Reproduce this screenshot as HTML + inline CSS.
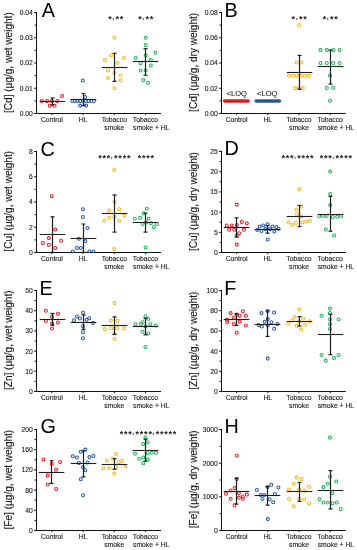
<!DOCTYPE html>
<html><head><meta charset="utf-8"><style>
html,body{margin:0;padding:0;background:#fff;}
body{width:357px;height:550px;overflow:hidden;}
svg{display:block;will-change:transform;}
text{font-family:"Liberation Sans",sans-serif;}
.ax{stroke:#111;stroke-width:1;fill:none;}
.tk{font-size:6.8px;fill:#1c1c1c;stroke:#1c1c1c;stroke-width:0.12px;}
.xl{font-size:6.8px;fill:#1c1c1c;stroke:#1c1c1c;stroke-width:0.12px;}
.yl{font-size:10.05px;fill:#1c1c1c;stroke:#1c1c1c;stroke-width:0.15px;}
.pl{font-size:19.8px;fill:#000;}
.st{font-weight:bold;fill:#222;}
.cm{font-size:7px;font-weight:bold;fill:#333;}
.lq{font-size:7px;fill:#1c1c1c;stroke:#1c1c1c;stroke-width:0.12px;}
.pt{fill:none;stroke-width:1.05;}
.mn{stroke:#1e1e1e;stroke-width:1.1;}
.eb{stroke:#1e1e1e;stroke-width:1.2;}
</style></head><body>
<svg width="357" height="550" viewBox="0 0 357 550">
<line x1="36.5" y1="12.0" x2="36.5" y2="114.0" class="ax"/>
<line x1="34.1" y1="12.5" x2="36.5" y2="12.5" class="ax"/>
<text x="32.9" y="14.95" class="tk" text-anchor="end">0.04</text>
<line x1="34.5" y1="25.125" x2="36.5" y2="25.125" class="ax"/>
<line x1="34.1" y1="37.75" x2="36.5" y2="37.75" class="ax"/>
<text x="32.9" y="40.20" class="tk" text-anchor="end">0.03</text>
<line x1="34.5" y1="50.375" x2="36.5" y2="50.375" class="ax"/>
<line x1="34.1" y1="63.0" x2="36.5" y2="63.0" class="ax"/>
<text x="32.9" y="65.45" class="tk" text-anchor="end">0.02</text>
<line x1="34.5" y1="75.625" x2="36.5" y2="75.625" class="ax"/>
<line x1="34.1" y1="88.25" x2="36.5" y2="88.25" class="ax"/>
<text x="32.9" y="90.70" class="tk" text-anchor="end">0.01</text>
<line x1="34.5" y1="100.875" x2="36.5" y2="100.875" class="ax"/>
<line x1="34.1" y1="113.5" x2="36.5" y2="113.5" class="ax"/>
<text x="32.9" y="115.95" class="tk" text-anchor="end">0.00</text>
<line x1="36.0" y1="113.5" x2="161.0" y2="113.5" class="ax"/>
<line x1="51.9" y1="113.5" x2="51.9" y2="115.1" class="ax"/>
<line x1="83.1" y1="113.5" x2="83.1" y2="115.1" class="ax"/>
<line x1="114.3" y1="113.5" x2="114.3" y2="115.1" class="ax"/>
<line x1="145.5" y1="113.5" x2="145.5" y2="115.1" class="ax"/>
<text x="51.9" y="121.9" class="xl" text-anchor="middle">Control</text>
<text x="83.1" y="121.9" class="xl" text-anchor="middle">HL</text>
<text x="114.3" y="121.9" class="xl" text-anchor="middle">Tobacco</text>
<text x="114.3" y="129.70000000000002" class="xl" text-anchor="middle">smoke</text>
<text x="145.5" y="121.9" class="xl" text-anchor="middle">Tobacco</text>
<text x="133.0" y="129.70000000000002" class="xl">smoke + HL</text>
<text transform="translate(11.5,62.6) rotate(-90)" class="yl" text-anchor="middle">[Cd] (µg/g, wet weight)</text>
<text x="41.66" y="16.5" class="pl">A</text>
<circle cx="41.8" cy="100.9" r="1.5" stroke="#ee1c25" class="pt"/>
<circle cx="47.1" cy="100.9" r="1.5" stroke="#ee1c25" class="pt"/>
<circle cx="51.9" cy="100.9" r="1.5" stroke="#ee1c25" class="pt"/>
<circle cx="57.2" cy="100.9" r="1.5" stroke="#ee1c25" class="pt"/>
<circle cx="49.8" cy="105.8" r="1.5" stroke="#ee1c25" class="pt"/>
<circle cx="54.6" cy="105.8" r="1.5" stroke="#ee1c25" class="pt"/>
<circle cx="62.1" cy="95.9" r="1.5" stroke="#ee1c25" class="pt"/>
<line x1="39.7" y1="101.5" x2="65.3" y2="101.5" class="mn"/>
<line x1="52.5" y1="98.0" x2="52.5" y2="105.0" class="eb"/>
<line x1="50.5" y1="98.0" x2="54.5" y2="98.0" class="eb"/>
<line x1="50.5" y1="105.0" x2="54.5" y2="105.0" class="eb"/>
<circle cx="72.2" cy="101.0" r="1.5" stroke="#2a5ca8" class="pt"/>
<circle cx="74.9" cy="101.0" r="1.5" stroke="#2a5ca8" class="pt"/>
<circle cx="77.5" cy="101.0" r="1.5" stroke="#2a5ca8" class="pt"/>
<circle cx="80.2" cy="101.0" r="1.5" stroke="#2a5ca8" class="pt"/>
<circle cx="83.0" cy="101.0" r="1.5" stroke="#2a5ca8" class="pt"/>
<circle cx="85.8" cy="101.0" r="1.5" stroke="#2a5ca8" class="pt"/>
<circle cx="88.6" cy="101.0" r="1.5" stroke="#2a5ca8" class="pt"/>
<circle cx="91.2" cy="101.0" r="1.5" stroke="#2a5ca8" class="pt"/>
<circle cx="93.9" cy="101.0" r="1.5" stroke="#2a5ca8" class="pt"/>
<circle cx="80.2" cy="105.6" r="1.5" stroke="#2a5ca8" class="pt"/>
<circle cx="86.1" cy="105.6" r="1.5" stroke="#2a5ca8" class="pt"/>
<circle cx="85.2" cy="96.9" r="1.5" stroke="#2a5ca8" class="pt"/>
<circle cx="82.8" cy="80.5" r="1.5" stroke="#2a5ca8" class="pt"/>
<line x1="70.7" y1="99.5" x2="96.3" y2="99.5" class="mn"/>
<line x1="83.5" y1="93.5" x2="83.5" y2="105.6" class="eb"/>
<line x1="81.5" y1="93.5" x2="85.5" y2="93.5" class="eb"/>
<line x1="81.5" y1="105.6" x2="85.5" y2="105.6" class="eb"/>
<circle cx="114.4" cy="37.7" r="1.5" stroke="#fbb91a" class="pt"/>
<circle cx="111.1" cy="55.2" r="1.5" stroke="#fbb91a" class="pt"/>
<circle cx="104.9" cy="60.1" r="1.5" stroke="#fbb91a" class="pt"/>
<circle cx="123.9" cy="57.9" r="1.5" stroke="#fbb91a" class="pt"/>
<circle cx="117.5" cy="62.8" r="1.5" stroke="#fbb91a" class="pt"/>
<circle cx="108" cy="70.5" r="1.5" stroke="#fbb91a" class="pt"/>
<circle cx="114.4" cy="73" r="1.5" stroke="#fbb91a" class="pt"/>
<circle cx="120.6" cy="75.5" r="1.5" stroke="#fbb91a" class="pt"/>
<circle cx="108" cy="77.9" r="1.5" stroke="#fbb91a" class="pt"/>
<circle cx="120.6" cy="80.5" r="1.5" stroke="#fbb91a" class="pt"/>
<circle cx="114.4" cy="88.3" r="1.5" stroke="#fbb91a" class="pt"/>
<line x1="101.7" y1="67.5" x2="127.3" y2="67.5" class="mn"/>
<line x1="114.5" y1="53.3" x2="114.5" y2="81.4" class="eb"/>
<line x1="112.5" y1="53.3" x2="116.5" y2="53.3" class="eb"/>
<line x1="112.5" y1="81.4" x2="116.5" y2="81.4" class="eb"/>
<circle cx="145.7" cy="37.7" r="1.5" stroke="#22b35e" class="pt"/>
<circle cx="145.7" cy="45.1" r="1.5" stroke="#22b35e" class="pt"/>
<circle cx="155.5" cy="52.8" r="1.5" stroke="#22b35e" class="pt"/>
<circle cx="145.7" cy="55.2" r="1.5" stroke="#22b35e" class="pt"/>
<circle cx="135.7" cy="57.9" r="1.5" stroke="#22b35e" class="pt"/>
<circle cx="150.8" cy="60.1" r="1.5" stroke="#22b35e" class="pt"/>
<circle cx="140.6" cy="63.2" r="1.5" stroke="#22b35e" class="pt"/>
<circle cx="150.8" cy="65.5" r="1.5" stroke="#22b35e" class="pt"/>
<circle cx="140.6" cy="70.5" r="1.5" stroke="#22b35e" class="pt"/>
<circle cx="145.7" cy="70.5" r="1.5" stroke="#22b35e" class="pt"/>
<circle cx="143.2" cy="80.1" r="1.5" stroke="#22b35e" class="pt"/>
<circle cx="148.1" cy="82.8" r="1.5" stroke="#22b35e" class="pt"/>
<line x1="132.7" y1="61.5" x2="158.3" y2="61.5" class="mn"/>
<line x1="145.5" y1="48.6" x2="145.5" y2="75.2" class="eb"/>
<line x1="143.5" y1="48.6" x2="147.5" y2="48.6" class="eb"/>
<line x1="143.5" y1="75.2" x2="147.5" y2="75.2" class="eb"/>
<text x="108.24" y="22.40" class="st" style="font-size:9.0px">*</text>
<text x="112.33" y="19.30" class="cm">,</text>
<text x="115.58" y="22.40" class="st" style="font-size:9.0px">*</text>
<text x="119.86" y="22.40" class="st" style="font-size:9.0px">*</text>
<text x="138.14" y="22.40" class="st" style="font-size:9.0px">*</text>
<text x="142.23" y="19.30" class="cm">,</text>
<text x="145.48" y="22.40" class="st" style="font-size:9.0px">*</text>
<text x="149.76" y="22.40" class="st" style="font-size:9.0px">*</text>
<line x1="221.5" y1="12.0" x2="221.5" y2="114.0" class="ax"/>
<line x1="219.1" y1="12.5" x2="221.5" y2="12.5" class="ax"/>
<text x="217.9" y="14.95" class="tk" text-anchor="end">0.08</text>
<line x1="219.5" y1="25.125" x2="221.5" y2="25.125" class="ax"/>
<line x1="219.1" y1="37.75" x2="221.5" y2="37.75" class="ax"/>
<text x="217.9" y="40.20" class="tk" text-anchor="end">0.06</text>
<line x1="219.5" y1="50.375" x2="221.5" y2="50.375" class="ax"/>
<line x1="219.1" y1="63.0" x2="221.5" y2="63.0" class="ax"/>
<text x="217.9" y="65.45" class="tk" text-anchor="end">0.04</text>
<line x1="219.5" y1="75.625" x2="221.5" y2="75.625" class="ax"/>
<line x1="219.1" y1="88.25" x2="221.5" y2="88.25" class="ax"/>
<text x="217.9" y="90.70" class="tk" text-anchor="end">0.02</text>
<line x1="219.5" y1="100.875" x2="221.5" y2="100.875" class="ax"/>
<line x1="219.1" y1="113.5" x2="221.5" y2="113.5" class="ax"/>
<text x="217.9" y="115.95" class="tk" text-anchor="end">0.00</text>
<line x1="221.0" y1="113.5" x2="345.8" y2="113.5" class="ax"/>
<line x1="236.6" y1="113.5" x2="236.6" y2="115.1" class="ax"/>
<line x1="267.8" y1="113.5" x2="267.8" y2="115.1" class="ax"/>
<line x1="299.0" y1="113.5" x2="299.0" y2="115.1" class="ax"/>
<line x1="330.2" y1="113.5" x2="330.2" y2="115.1" class="ax"/>
<text x="236.6" y="121.9" class="xl" text-anchor="middle">Control</text>
<text x="267.8" y="121.9" class="xl" text-anchor="middle">HL</text>
<text x="299.0" y="121.9" class="xl" text-anchor="middle">Tobacco</text>
<text x="299.0" y="129.70000000000002" class="xl" text-anchor="middle">smoke</text>
<text x="330.2" y="121.9" class="xl" text-anchor="middle">Tobacco</text>
<text x="317.7" y="129.70000000000002" class="xl">smoke + HL</text>
<text transform="translate(196.5,62.4) rotate(-90)" class="yl" text-anchor="middle">[Cd] (µg/g, dry weight)</text>
<text x="224.4" y="16.5" class="pl">B</text>
<line x1="224.6" y1="101" x2="248.20000000000002" y2="101" stroke="#ee1c25" stroke-width="3.4" stroke-linecap="round"/>
<line x1="225.4" y1="101" x2="247.4" y2="101" stroke="#331" stroke-width="0.9" stroke-dasharray="0.9 0.5" opacity="0.75"/>
<text x="226.6" y="96.3" class="lq" textLength="20.3" lengthAdjust="spacingAndGlyphs">&lt;LOQ</text>
<line x1="256.1" y1="101" x2="279.5" y2="101" stroke="#2a5ca8" stroke-width="3.4" stroke-linecap="round"/>
<line x1="256.9" y1="101" x2="278.7" y2="101" stroke="#331" stroke-width="0.9" stroke-dasharray="0.9 0.5" opacity="0.75"/>
<text x="257.09999999999997" y="96.3" class="lq" textLength="20.3" lengthAdjust="spacingAndGlyphs">&lt;LOQ</text>
<circle cx="299.1" cy="24.9" r="1.5" stroke="#fbb91a" class="pt"/>
<circle cx="296.6" cy="62.5" r="1.5" stroke="#fbb91a" class="pt"/>
<circle cx="301.6" cy="62.5" r="1.5" stroke="#fbb91a" class="pt"/>
<circle cx="288.9" cy="75.8" r="1.5" stroke="#fbb91a" class="pt"/>
<circle cx="293" cy="75.8" r="1.5" stroke="#fbb91a" class="pt"/>
<circle cx="297" cy="75.8" r="1.5" stroke="#fbb91a" class="pt"/>
<circle cx="301" cy="75.8" r="1.5" stroke="#fbb91a" class="pt"/>
<circle cx="305" cy="75.8" r="1.5" stroke="#fbb91a" class="pt"/>
<circle cx="309.1" cy="75.8" r="1.5" stroke="#fbb91a" class="pt"/>
<circle cx="294.9" cy="88.1" r="1.5" stroke="#fbb91a" class="pt"/>
<circle cx="298.8" cy="88.1" r="1.5" stroke="#fbb91a" class="pt"/>
<circle cx="302.8" cy="88.1" r="1.5" stroke="#fbb91a" class="pt"/>
<line x1="286.7" y1="72.5" x2="312.3" y2="72.5" class="mn"/>
<line x1="299.5" y1="55.4" x2="299.5" y2="89.2" class="eb"/>
<line x1="297.5" y1="55.4" x2="301.5" y2="55.4" class="eb"/>
<line x1="297.5" y1="89.2" x2="301.5" y2="89.2" class="eb"/>
<circle cx="320.5" cy="50.1" r="1.5" stroke="#22b35e" class="pt"/>
<circle cx="326.8" cy="50.1" r="1.5" stroke="#22b35e" class="pt"/>
<circle cx="333.5" cy="50.1" r="1.5" stroke="#22b35e" class="pt"/>
<circle cx="339.6" cy="50.1" r="1.5" stroke="#22b35e" class="pt"/>
<circle cx="320.6" cy="62.9" r="1.5" stroke="#22b35e" class="pt"/>
<circle cx="326.8" cy="62.9" r="1.5" stroke="#22b35e" class="pt"/>
<circle cx="333.3" cy="62.9" r="1.5" stroke="#22b35e" class="pt"/>
<circle cx="339.6" cy="62.9" r="1.5" stroke="#22b35e" class="pt"/>
<circle cx="330" cy="75.5" r="1.5" stroke="#22b35e" class="pt"/>
<circle cx="326.8" cy="87.9" r="1.5" stroke="#22b35e" class="pt"/>
<circle cx="333.1" cy="87.9" r="1.5" stroke="#22b35e" class="pt"/>
<circle cx="330" cy="100.7" r="1.5" stroke="#22b35e" class="pt"/>
<line x1="317.7" y1="66.5" x2="343.3" y2="66.5" class="mn"/>
<line x1="330.5" y1="50.1" x2="330.5" y2="84.1" class="eb"/>
<line x1="328.5" y1="50.1" x2="332.5" y2="50.1" class="eb"/>
<line x1="328.5" y1="84.1" x2="332.5" y2="84.1" class="eb"/>
<text x="291.54" y="22.40" class="st" style="font-size:9.0px">*</text>
<text x="295.63" y="19.30" class="cm">,</text>
<text x="298.88" y="22.40" class="st" style="font-size:9.0px">*</text>
<text x="303.16" y="22.40" class="st" style="font-size:9.0px">*</text>
<text x="322.64" y="22.40" class="st" style="font-size:9.0px">*</text>
<text x="326.73" y="19.30" class="cm">,</text>
<text x="329.98" y="22.40" class="st" style="font-size:9.0px">*</text>
<text x="334.26" y="22.40" class="st" style="font-size:9.0px">*</text>
<line x1="36.5" y1="151.0" x2="36.5" y2="253.0" class="ax"/>
<line x1="34.1" y1="151.5" x2="36.5" y2="151.5" class="ax"/>
<text x="32.9" y="153.95" class="tk" text-anchor="end">8</text>
<line x1="34.5" y1="164.125" x2="36.5" y2="164.125" class="ax"/>
<line x1="34.1" y1="176.75" x2="36.5" y2="176.75" class="ax"/>
<text x="32.9" y="179.20" class="tk" text-anchor="end">6</text>
<line x1="34.5" y1="189.375" x2="36.5" y2="189.375" class="ax"/>
<line x1="34.1" y1="202.0" x2="36.5" y2="202.0" class="ax"/>
<text x="32.9" y="204.45" class="tk" text-anchor="end">4</text>
<line x1="34.5" y1="214.625" x2="36.5" y2="214.625" class="ax"/>
<line x1="34.1" y1="227.25" x2="36.5" y2="227.25" class="ax"/>
<text x="32.9" y="229.70" class="tk" text-anchor="end">2</text>
<line x1="34.5" y1="239.875" x2="36.5" y2="239.875" class="ax"/>
<line x1="34.1" y1="252.5" x2="36.5" y2="252.5" class="ax"/>
<text x="32.9" y="254.95" class="tk" text-anchor="end">0</text>
<line x1="36.0" y1="252.5" x2="161.0" y2="252.5" class="ax"/>
<line x1="51.9" y1="252.5" x2="51.9" y2="254.1" class="ax"/>
<line x1="83.1" y1="252.5" x2="83.1" y2="254.1" class="ax"/>
<line x1="114.3" y1="252.5" x2="114.3" y2="254.1" class="ax"/>
<line x1="145.5" y1="252.5" x2="145.5" y2="254.1" class="ax"/>
<text x="51.9" y="260.9" class="xl" text-anchor="middle">Control</text>
<text x="83.1" y="260.9" class="xl" text-anchor="middle">HL</text>
<text x="114.3" y="260.9" class="xl" text-anchor="middle">Tobacco</text>
<text x="114.3" y="268.7" class="xl" text-anchor="middle">smoke</text>
<text x="145.5" y="260.9" class="xl" text-anchor="middle">Tobacco</text>
<text x="133.0" y="268.7" class="xl">smoke + HL</text>
<text transform="translate(11.5,201.3) rotate(-90)" class="yl" text-anchor="middle">[Cu] (µg/g, wet weight)</text>
<text x="40.4" y="155.5" class="pl">C</text>
<clipPath id="clipC"><rect x="37" y="140" width="130" height="112.4"/></clipPath><g clip-path="url(#clipC)">
<circle cx="51.7" cy="196.3" r="1.5" stroke="#ee1c25" class="pt"/>
<circle cx="55.2" cy="229.5" r="1.5" stroke="#ee1c25" class="pt"/>
<circle cx="48.9" cy="238.1" r="1.5" stroke="#ee1c25" class="pt"/>
<circle cx="42.8" cy="242.9" r="1.5" stroke="#ee1c25" class="pt"/>
<circle cx="61.1" cy="240.8" r="1.5" stroke="#ee1c25" class="pt"/>
<circle cx="48.9" cy="244.7" r="1.5" stroke="#ee1c25" class="pt"/>
<circle cx="55.2" cy="248" r="1.5" stroke="#ee1c25" class="pt"/>
<line x1="39.7" y1="234.5" x2="65.3" y2="234.5" class="mn"/>
<line x1="52.5" y1="216.8" x2="52.5" y2="252.3" class="eb"/>
<line x1="50.5" y1="216.8" x2="54.5" y2="216.8" class="eb"/>
<line x1="50.5" y1="252.3" x2="54.5" y2="252.3" class="eb"/>
<circle cx="82.9" cy="209.2" r="1.5" stroke="#2a5ca8" class="pt"/>
<circle cx="82.9" cy="217" r="1.5" stroke="#2a5ca8" class="pt"/>
<circle cx="87.5" cy="228" r="1.5" stroke="#2a5ca8" class="pt"/>
<circle cx="79" cy="238.8" r="1.5" stroke="#2a5ca8" class="pt"/>
<circle cx="85.3" cy="241.1" r="1.5" stroke="#2a5ca8" class="pt"/>
<circle cx="76.9" cy="248" r="1.5" stroke="#2a5ca8" class="pt"/>
<circle cx="80.8" cy="248" r="1.5" stroke="#2a5ca8" class="pt"/>
<circle cx="72.8" cy="251.5" r="1.5" stroke="#2a5ca8" class="pt"/>
<circle cx="89.4" cy="251.5" r="1.5" stroke="#2a5ca8" class="pt"/>
<circle cx="93.4" cy="251.5" r="1.5" stroke="#2a5ca8" class="pt"/>
<line x1="70.7" y1="238.5" x2="96.3" y2="238.5" class="mn"/>
<line x1="83.5" y1="224.0" x2="83.5" y2="252.3" class="eb"/>
<line x1="81.5" y1="224.0" x2="85.5" y2="224.0" class="eb"/>
<line x1="81.5" y1="252.3" x2="85.5" y2="252.3" class="eb"/>
</g>
<circle cx="114.2" cy="170.1" r="1.5" stroke="#fbb91a" class="pt"/>
<circle cx="114.5" cy="202" r="1.5" stroke="#fbb91a" class="pt"/>
<circle cx="109.1" cy="210.6" r="1.5" stroke="#fbb91a" class="pt"/>
<circle cx="119.2" cy="209.2" r="1.5" stroke="#fbb91a" class="pt"/>
<circle cx="109.1" cy="217.8" r="1.5" stroke="#fbb91a" class="pt"/>
<circle cx="114.5" cy="216.9" r="1.5" stroke="#fbb91a" class="pt"/>
<circle cx="124.4" cy="215.6" r="1.5" stroke="#fbb91a" class="pt"/>
<circle cx="104.3" cy="220.8" r="1.5" stroke="#fbb91a" class="pt"/>
<circle cx="119.2" cy="220.8" r="1.5" stroke="#fbb91a" class="pt"/>
<circle cx="114.2" cy="249.1" r="1.5" stroke="#fbb91a" class="pt"/>
<line x1="101.7" y1="213.5" x2="127.3" y2="213.5" class="mn"/>
<line x1="114.5" y1="195.0" x2="114.5" y2="232.1" class="eb"/>
<line x1="112.5" y1="195.0" x2="116.5" y2="195.0" class="eb"/>
<line x1="112.5" y1="232.1" x2="116.5" y2="232.1" class="eb"/>
<circle cx="146.8" cy="208.8" r="1.5" stroke="#22b35e" class="pt"/>
<circle cx="143.7" cy="213.3" r="1.5" stroke="#22b35e" class="pt"/>
<circle cx="140.1" cy="217.8" r="1.5" stroke="#22b35e" class="pt"/>
<circle cx="134.8" cy="218.7" r="1.5" stroke="#22b35e" class="pt"/>
<circle cx="148.6" cy="218.7" r="1.5" stroke="#22b35e" class="pt"/>
<circle cx="142.5" cy="224" r="1.5" stroke="#22b35e" class="pt"/>
<circle cx="146" cy="222.6" r="1.5" stroke="#22b35e" class="pt"/>
<circle cx="150.9" cy="223.2" r="1.5" stroke="#22b35e" class="pt"/>
<circle cx="156.8" cy="224" r="1.5" stroke="#22b35e" class="pt"/>
<circle cx="153.9" cy="227.3" r="1.5" stroke="#22b35e" class="pt"/>
<circle cx="145.6" cy="247.4" r="1.5" stroke="#22b35e" class="pt"/>
<line x1="132.7" y1="222.5" x2="158.3" y2="222.5" class="mn"/>
<line x1="145.5" y1="213.2" x2="145.5" y2="232.1" class="eb"/>
<line x1="143.5" y1="213.2" x2="147.5" y2="213.2" class="eb"/>
<line x1="143.5" y1="232.1" x2="147.5" y2="232.1" class="eb"/>
<text x="98.18" y="161.40" class="st" style="font-size:9.0px">*</text>
<text x="102.46" y="161.40" class="st" style="font-size:9.0px">*</text>
<text x="106.74" y="161.40" class="st" style="font-size:9.0px">*</text>
<text x="110.83" y="158.30" class="cm">,</text>
<text x="114.08" y="161.40" class="st" style="font-size:9.0px">*</text>
<text x="118.36" y="161.40" class="st" style="font-size:9.0px">*</text>
<text x="122.64" y="161.40" class="st" style="font-size:9.0px">*</text>
<text x="126.92" y="161.40" class="st" style="font-size:9.0px">*</text>
<text x="137.73" y="161.40" class="st" style="font-size:9.0px">*</text>
<text x="142.01" y="161.40" class="st" style="font-size:9.0px">*</text>
<text x="146.29" y="161.40" class="st" style="font-size:9.0px">*</text>
<text x="150.57" y="161.40" class="st" style="font-size:9.0px">*</text>
<line x1="221.5" y1="151.0" x2="221.5" y2="253.0" class="ax"/>
<line x1="219.1" y1="151.5" x2="221.5" y2="151.5" class="ax"/>
<text x="217.9" y="153.95" class="tk" text-anchor="end">25</text>
<line x1="219.5" y1="161.6" x2="221.5" y2="161.6" class="ax"/>
<line x1="219.1" y1="171.7" x2="221.5" y2="171.7" class="ax"/>
<text x="217.9" y="174.15" class="tk" text-anchor="end">20</text>
<line x1="219.5" y1="181.79999999999998" x2="221.5" y2="181.79999999999998" class="ax"/>
<line x1="219.1" y1="191.9" x2="221.5" y2="191.9" class="ax"/>
<text x="217.9" y="194.35" class="tk" text-anchor="end">15</text>
<line x1="219.5" y1="202.0" x2="221.5" y2="202.0" class="ax"/>
<line x1="219.1" y1="212.1" x2="221.5" y2="212.1" class="ax"/>
<text x="217.9" y="214.55" class="tk" text-anchor="end">10</text>
<line x1="219.5" y1="222.2" x2="221.5" y2="222.2" class="ax"/>
<line x1="219.1" y1="232.3" x2="221.5" y2="232.3" class="ax"/>
<text x="217.9" y="234.75" class="tk" text-anchor="end">5</text>
<line x1="219.5" y1="242.4" x2="221.5" y2="242.4" class="ax"/>
<line x1="219.1" y1="252.5" x2="221.5" y2="252.5" class="ax"/>
<text x="217.9" y="254.95" class="tk" text-anchor="end">0</text>
<line x1="221.0" y1="252.5" x2="345.8" y2="252.5" class="ax"/>
<line x1="236.6" y1="252.5" x2="236.6" y2="254.1" class="ax"/>
<line x1="267.8" y1="252.5" x2="267.8" y2="254.1" class="ax"/>
<line x1="299.0" y1="252.5" x2="299.0" y2="254.1" class="ax"/>
<line x1="330.2" y1="252.5" x2="330.2" y2="254.1" class="ax"/>
<text x="236.6" y="260.9" class="xl" text-anchor="middle">Control</text>
<text x="267.8" y="260.9" class="xl" text-anchor="middle">HL</text>
<text x="299.0" y="260.9" class="xl" text-anchor="middle">Tobacco</text>
<text x="299.0" y="268.7" class="xl" text-anchor="middle">smoke</text>
<text x="330.2" y="260.9" class="xl" text-anchor="middle">Tobacco</text>
<text x="317.7" y="268.7" class="xl">smoke + HL</text>
<text transform="translate(196.5,201.6) rotate(-90)" class="yl" text-anchor="middle">[Cu] (µg/g, dry weight)</text>
<text x="224.4" y="154.8" class="pl">D</text>
<circle cx="236.8" cy="204.6" r="1.5" stroke="#ee1c25" class="pt"/>
<circle cx="241.8" cy="221.9" r="1.5" stroke="#ee1c25" class="pt"/>
<circle cx="246.8" cy="223.3" r="1.5" stroke="#ee1c25" class="pt"/>
<circle cx="226.7" cy="225.5" r="1.5" stroke="#ee1c25" class="pt"/>
<circle cx="231.8" cy="225.5" r="1.5" stroke="#ee1c25" class="pt"/>
<circle cx="236.8" cy="225" r="1.5" stroke="#ee1c25" class="pt"/>
<circle cx="229.1" cy="229.7" r="1.5" stroke="#ee1c25" class="pt"/>
<circle cx="234.2" cy="229.7" r="1.5" stroke="#ee1c25" class="pt"/>
<circle cx="244" cy="229.7" r="1.5" stroke="#ee1c25" class="pt"/>
<circle cx="239.1" cy="233.2" r="1.5" stroke="#ee1c25" class="pt"/>
<circle cx="236.8" cy="235.5" r="1.5" stroke="#ee1c25" class="pt"/>
<circle cx="236.8" cy="244.6" r="1.5" stroke="#ee1c25" class="pt"/>
<line x1="223.7" y1="227.5" x2="249.3" y2="227.5" class="mn"/>
<line x1="236.5" y1="217.9" x2="236.5" y2="237.0" class="eb"/>
<line x1="234.5" y1="217.9" x2="238.5" y2="217.9" class="eb"/>
<line x1="234.5" y1="237.0" x2="238.5" y2="237.0" class="eb"/>
<circle cx="267.7" cy="224.2" r="1.5" stroke="#2a5ca8" class="pt"/>
<circle cx="263.3" cy="225.5" r="1.5" stroke="#2a5ca8" class="pt"/>
<circle cx="259.7" cy="226.4" r="1.5" stroke="#2a5ca8" class="pt"/>
<circle cx="272.4" cy="226.4" r="1.5" stroke="#2a5ca8" class="pt"/>
<circle cx="276.4" cy="227" r="1.5" stroke="#2a5ca8" class="pt"/>
<circle cx="257.3" cy="230" r="1.5" stroke="#2a5ca8" class="pt"/>
<circle cx="261.5" cy="231" r="1.5" stroke="#2a5ca8" class="pt"/>
<circle cx="265.5" cy="229.1" r="1.5" stroke="#2a5ca8" class="pt"/>
<circle cx="270.1" cy="229.1" r="1.5" stroke="#2a5ca8" class="pt"/>
<circle cx="274.3" cy="231.5" r="1.5" stroke="#2a5ca8" class="pt"/>
<circle cx="278.6" cy="228.8" r="1.5" stroke="#2a5ca8" class="pt"/>
<circle cx="267.7" cy="239.5" r="1.5" stroke="#2a5ca8" class="pt"/>
<line x1="254.7" y1="229.5" x2="280.3" y2="229.5" class="mn"/>
<line x1="267.5" y1="225.5" x2="267.5" y2="233.2" class="eb"/>
<line x1="265.5" y1="225.5" x2="269.5" y2="225.5" class="eb"/>
<line x1="265.5" y1="233.2" x2="269.5" y2="233.2" class="eb"/>
<circle cx="299.2" cy="189.1" r="1.5" stroke="#fbb91a" class="pt"/>
<circle cx="301.2" cy="206.5" r="1.5" stroke="#fbb91a" class="pt"/>
<circle cx="296.4" cy="209.4" r="1.5" stroke="#fbb91a" class="pt"/>
<circle cx="297" cy="214.2" r="1.5" stroke="#fbb91a" class="pt"/>
<circle cx="301.2" cy="216.4" r="1.5" stroke="#fbb91a" class="pt"/>
<circle cx="288.3" cy="222.3" r="1.5" stroke="#fbb91a" class="pt"/>
<circle cx="292" cy="224.7" r="1.5" stroke="#fbb91a" class="pt"/>
<circle cx="295.7" cy="222.9" r="1.5" stroke="#fbb91a" class="pt"/>
<circle cx="302.5" cy="222.3" r="1.5" stroke="#fbb91a" class="pt"/>
<circle cx="306.2" cy="221.8" r="1.5" stroke="#fbb91a" class="pt"/>
<circle cx="309.9" cy="220.7" r="1.5" stroke="#fbb91a" class="pt"/>
<line x1="286.7" y1="216.5" x2="312.3" y2="216.5" class="mn"/>
<line x1="299.5" y1="205.5" x2="299.5" y2="226.6" class="eb"/>
<line x1="297.5" y1="205.5" x2="301.5" y2="205.5" class="eb"/>
<line x1="297.5" y1="226.6" x2="301.5" y2="226.6" class="eb"/>
<circle cx="330.2" cy="171.6" r="1.5" stroke="#22b35e" class="pt"/>
<circle cx="330.2" cy="194.1" r="1.5" stroke="#22b35e" class="pt"/>
<circle cx="330.2" cy="205" r="1.5" stroke="#22b35e" class="pt"/>
<circle cx="319.3" cy="215.9" r="1.5" stroke="#22b35e" class="pt"/>
<circle cx="323" cy="215.9" r="1.5" stroke="#22b35e" class="pt"/>
<circle cx="326.5" cy="215.9" r="1.5" stroke="#22b35e" class="pt"/>
<circle cx="332.8" cy="217" r="1.5" stroke="#22b35e" class="pt"/>
<circle cx="337.2" cy="216.8" r="1.5" stroke="#22b35e" class="pt"/>
<circle cx="341.1" cy="215.9" r="1.5" stroke="#22b35e" class="pt"/>
<circle cx="325.8" cy="229.5" r="1.5" stroke="#22b35e" class="pt"/>
<circle cx="334.1" cy="235.4" r="1.5" stroke="#22b35e" class="pt"/>
<line x1="317.7" y1="214.5" x2="343.3" y2="214.5" class="mn"/>
<line x1="330.5" y1="196.3" x2="330.5" y2="231.2" class="eb"/>
<line x1="328.5" y1="196.3" x2="332.5" y2="196.3" class="eb"/>
<line x1="328.5" y1="231.2" x2="332.5" y2="231.2" class="eb"/>
<text x="281.38" y="161.40" class="st" style="font-size:9.0px">*</text>
<text x="285.66" y="161.40" class="st" style="font-size:9.0px">*</text>
<text x="289.94" y="161.40" class="st" style="font-size:9.0px">*</text>
<text x="294.03" y="158.30" class="cm">,</text>
<text x="297.28" y="161.40" class="st" style="font-size:9.0px">*</text>
<text x="301.56" y="161.40" class="st" style="font-size:9.0px">*</text>
<text x="305.84" y="161.40" class="st" style="font-size:9.0px">*</text>
<text x="310.12" y="161.40" class="st" style="font-size:9.0px">*</text>
<text x="319.68" y="161.40" class="st" style="font-size:9.0px">*</text>
<text x="323.96" y="161.40" class="st" style="font-size:9.0px">*</text>
<text x="328.24" y="161.40" class="st" style="font-size:9.0px">*</text>
<text x="332.33" y="158.30" class="cm">,</text>
<text x="335.58" y="161.40" class="st" style="font-size:9.0px">*</text>
<text x="339.86" y="161.40" class="st" style="font-size:9.0px">*</text>
<text x="344.14" y="161.40" class="st" style="font-size:9.0px">*</text>
<text x="348.42" y="161.40" class="st" style="font-size:9.0px">*</text>
<line x1="36.5" y1="290.0" x2="36.5" y2="392.0" class="ax"/>
<line x1="34.1" y1="290.5" x2="36.5" y2="290.5" class="ax"/>
<text x="32.9" y="292.95" class="tk" text-anchor="end">50</text>
<line x1="34.5" y1="300.6" x2="36.5" y2="300.6" class="ax"/>
<line x1="34.1" y1="310.7" x2="36.5" y2="310.7" class="ax"/>
<text x="32.9" y="313.15" class="tk" text-anchor="end">40</text>
<line x1="34.5" y1="320.8" x2="36.5" y2="320.8" class="ax"/>
<line x1="34.1" y1="330.9" x2="36.5" y2="330.9" class="ax"/>
<text x="32.9" y="333.35" class="tk" text-anchor="end">30</text>
<line x1="34.5" y1="341.0" x2="36.5" y2="341.0" class="ax"/>
<line x1="34.1" y1="351.1" x2="36.5" y2="351.1" class="ax"/>
<text x="32.9" y="353.55" class="tk" text-anchor="end">20</text>
<line x1="34.5" y1="361.20000000000005" x2="36.5" y2="361.20000000000005" class="ax"/>
<line x1="34.1" y1="371.3" x2="36.5" y2="371.3" class="ax"/>
<text x="32.9" y="373.75" class="tk" text-anchor="end">10</text>
<line x1="34.5" y1="381.40000000000003" x2="36.5" y2="381.40000000000003" class="ax"/>
<line x1="34.1" y1="391.5" x2="36.5" y2="391.5" class="ax"/>
<text x="32.9" y="393.95" class="tk" text-anchor="end">0</text>
<line x1="36.0" y1="391.5" x2="161.0" y2="391.5" class="ax"/>
<line x1="51.9" y1="391.5" x2="51.9" y2="393.1" class="ax"/>
<line x1="83.1" y1="391.5" x2="83.1" y2="393.1" class="ax"/>
<line x1="114.3" y1="391.5" x2="114.3" y2="393.1" class="ax"/>
<line x1="145.5" y1="391.5" x2="145.5" y2="393.1" class="ax"/>
<text x="51.9" y="399.9" class="xl" text-anchor="middle">Control</text>
<text x="83.1" y="399.9" class="xl" text-anchor="middle">HL</text>
<text x="114.3" y="399.9" class="xl" text-anchor="middle">Tobacco</text>
<text x="114.3" y="407.7" class="xl" text-anchor="middle">smoke</text>
<text x="145.5" y="399.9" class="xl" text-anchor="middle">Tobacco</text>
<text x="133.0" y="407.7" class="xl">smoke + HL</text>
<text transform="translate(11.5,340.2) rotate(-90)" class="yl" text-anchor="middle">[Zn] (µg/g, wet weight)</text>
<text x="39.6" y="294.8" class="pl">E</text>
<circle cx="45.9" cy="310.8" r="1.5" stroke="#ee1c25" class="pt"/>
<circle cx="58" cy="313.7" r="1.5" stroke="#ee1c25" class="pt"/>
<circle cx="52.1" cy="316.8" r="1.5" stroke="#ee1c25" class="pt"/>
<circle cx="45.9" cy="320.9" r="1.5" stroke="#ee1c25" class="pt"/>
<circle cx="58" cy="322.5" r="1.5" stroke="#ee1c25" class="pt"/>
<circle cx="52.1" cy="323.6" r="1.5" stroke="#ee1c25" class="pt"/>
<circle cx="52.1" cy="328.4" r="1.5" stroke="#ee1c25" class="pt"/>
<line x1="39.7" y1="319.5" x2="65.3" y2="319.5" class="mn"/>
<line x1="52.5" y1="313.5" x2="52.5" y2="325.2" class="eb"/>
<line x1="50.5" y1="313.5" x2="54.5" y2="313.5" class="eb"/>
<line x1="50.5" y1="325.2" x2="54.5" y2="325.2" class="eb"/>
<circle cx="83" cy="312.8" r="1.5" stroke="#2a5ca8" class="pt"/>
<circle cx="76.9" cy="316.4" r="1.5" stroke="#2a5ca8" class="pt"/>
<circle cx="79.9" cy="318.5" r="1.5" stroke="#2a5ca8" class="pt"/>
<circle cx="89.2" cy="318.2" r="1.5" stroke="#2a5ca8" class="pt"/>
<circle cx="74" cy="320.3" r="1.5" stroke="#2a5ca8" class="pt"/>
<circle cx="86.6" cy="319.8" r="1.5" stroke="#2a5ca8" class="pt"/>
<circle cx="93" cy="323" r="1.5" stroke="#2a5ca8" class="pt"/>
<circle cx="83" cy="326.3" r="1.5" stroke="#2a5ca8" class="pt"/>
<circle cx="83" cy="332.3" r="1.5" stroke="#2a5ca8" class="pt"/>
<circle cx="83" cy="338.3" r="1.5" stroke="#2a5ca8" class="pt"/>
<line x1="70.7" y1="322.5" x2="96.3" y2="322.5" class="mn"/>
<line x1="83.5" y1="315.0" x2="83.5" y2="329.3" class="eb"/>
<line x1="81.5" y1="315.0" x2="85.5" y2="315.0" class="eb"/>
<line x1="81.5" y1="329.3" x2="85.5" y2="329.3" class="eb"/>
<circle cx="114.5" cy="303.1" r="1.5" stroke="#fbb91a" class="pt"/>
<circle cx="110.9" cy="320.6" r="1.5" stroke="#fbb91a" class="pt"/>
<circle cx="117.4" cy="320.6" r="1.5" stroke="#fbb91a" class="pt"/>
<circle cx="104.8" cy="329.1" r="1.5" stroke="#fbb91a" class="pt"/>
<circle cx="110.9" cy="328.2" r="1.5" stroke="#fbb91a" class="pt"/>
<circle cx="114.1" cy="328.2" r="1.5" stroke="#fbb91a" class="pt"/>
<circle cx="117.4" cy="328.2" r="1.5" stroke="#fbb91a" class="pt"/>
<circle cx="124" cy="328.5" r="1.5" stroke="#fbb91a" class="pt"/>
<circle cx="114.5" cy="333.5" r="1.5" stroke="#fbb91a" class="pt"/>
<circle cx="114.5" cy="338.9" r="1.5" stroke="#fbb91a" class="pt"/>
<line x1="101.7" y1="325.5" x2="127.3" y2="325.5" class="mn"/>
<line x1="114.5" y1="316.9" x2="114.5" y2="334.4" class="eb"/>
<line x1="112.5" y1="316.9" x2="116.5" y2="316.9" class="eb"/>
<line x1="112.5" y1="334.4" x2="116.5" y2="334.4" class="eb"/>
<circle cx="145.5" cy="316.2" r="1.5" stroke="#22b35e" class="pt"/>
<circle cx="148.2" cy="318.8" r="1.5" stroke="#22b35e" class="pt"/>
<circle cx="142.5" cy="322.2" r="1.5" stroke="#22b35e" class="pt"/>
<circle cx="135.6" cy="324.2" r="1.5" stroke="#22b35e" class="pt"/>
<circle cx="141" cy="324.2" r="1.5" stroke="#22b35e" class="pt"/>
<circle cx="150.3" cy="324.2" r="1.5" stroke="#22b35e" class="pt"/>
<circle cx="155.7" cy="325.5" r="1.5" stroke="#22b35e" class="pt"/>
<circle cx="145.5" cy="326.4" r="1.5" stroke="#22b35e" class="pt"/>
<circle cx="142.5" cy="331.8" r="1.5" stroke="#22b35e" class="pt"/>
<circle cx="148.2" cy="333.5" r="1.5" stroke="#22b35e" class="pt"/>
<circle cx="145.5" cy="347" r="1.5" stroke="#22b35e" class="pt"/>
<line x1="132.7" y1="326.5" x2="158.3" y2="326.5" class="mn"/>
<line x1="145.5" y1="318.3" x2="145.5" y2="334.8" class="eb"/>
<line x1="143.5" y1="318.3" x2="147.5" y2="318.3" class="eb"/>
<line x1="143.5" y1="334.8" x2="147.5" y2="334.8" class="eb"/>
<line x1="221.5" y1="290.0" x2="221.5" y2="392.0" class="ax"/>
<line x1="219.1" y1="290.5" x2="221.5" y2="290.5" class="ax"/>
<text x="217.9" y="292.95" class="tk" text-anchor="end">100</text>
<line x1="219.5" y1="300.6" x2="221.5" y2="300.6" class="ax"/>
<line x1="219.1" y1="310.7" x2="221.5" y2="310.7" class="ax"/>
<text x="217.9" y="313.15" class="tk" text-anchor="end">80</text>
<line x1="219.5" y1="320.8" x2="221.5" y2="320.8" class="ax"/>
<line x1="219.1" y1="330.9" x2="221.5" y2="330.9" class="ax"/>
<text x="217.9" y="333.35" class="tk" text-anchor="end">60</text>
<line x1="219.5" y1="341.0" x2="221.5" y2="341.0" class="ax"/>
<line x1="219.1" y1="351.1" x2="221.5" y2="351.1" class="ax"/>
<text x="217.9" y="353.55" class="tk" text-anchor="end">40</text>
<line x1="219.5" y1="361.20000000000005" x2="221.5" y2="361.20000000000005" class="ax"/>
<line x1="219.1" y1="371.3" x2="221.5" y2="371.3" class="ax"/>
<text x="217.9" y="373.75" class="tk" text-anchor="end">20</text>
<line x1="219.5" y1="381.40000000000003" x2="221.5" y2="381.40000000000003" class="ax"/>
<line x1="219.1" y1="391.5" x2="221.5" y2="391.5" class="ax"/>
<text x="217.9" y="393.95" class="tk" text-anchor="end">0</text>
<line x1="221.0" y1="391.5" x2="345.8" y2="391.5" class="ax"/>
<line x1="236.6" y1="391.5" x2="236.6" y2="393.1" class="ax"/>
<line x1="267.8" y1="391.5" x2="267.8" y2="393.1" class="ax"/>
<line x1="299.0" y1="391.5" x2="299.0" y2="393.1" class="ax"/>
<line x1="330.2" y1="391.5" x2="330.2" y2="393.1" class="ax"/>
<text x="236.6" y="399.9" class="xl" text-anchor="middle">Control</text>
<text x="267.8" y="399.9" class="xl" text-anchor="middle">HL</text>
<text x="299.0" y="399.9" class="xl" text-anchor="middle">Tobacco</text>
<text x="299.0" y="407.7" class="xl" text-anchor="middle">smoke</text>
<text x="330.2" y="399.9" class="xl" text-anchor="middle">Tobacco</text>
<text x="317.7" y="407.7" class="xl">smoke + HL</text>
<text transform="translate(196.5,340.7) rotate(-90)" class="yl" text-anchor="middle">[Zn] (µg/g, dry weight)</text>
<text x="224.3" y="294.6" class="pl">F</text>
<circle cx="242.8" cy="311.3" r="1.5" stroke="#ee1c25" class="pt"/>
<circle cx="230.6" cy="313.1" r="1.5" stroke="#ee1c25" class="pt"/>
<circle cx="236.8" cy="314.6" r="1.5" stroke="#ee1c25" class="pt"/>
<circle cx="245.9" cy="315.8" r="1.5" stroke="#ee1c25" class="pt"/>
<circle cx="239.7" cy="315.8" r="1.5" stroke="#ee1c25" class="pt"/>
<circle cx="233.7" cy="317.7" r="1.5" stroke="#ee1c25" class="pt"/>
<circle cx="226.9" cy="319.7" r="1.5" stroke="#ee1c25" class="pt"/>
<circle cx="227.3" cy="322.2" r="1.5" stroke="#ee1c25" class="pt"/>
<circle cx="239.7" cy="321.8" r="1.5" stroke="#ee1c25" class="pt"/>
<circle cx="233.7" cy="324" r="1.5" stroke="#ee1c25" class="pt"/>
<circle cx="245.9" cy="325.5" r="1.5" stroke="#ee1c25" class="pt"/>
<circle cx="236.8" cy="332.8" r="1.5" stroke="#ee1c25" class="pt"/>
<line x1="223.7" y1="319.5" x2="249.3" y2="319.5" class="mn"/>
<line x1="236.5" y1="313.7" x2="236.5" y2="325.5" class="eb"/>
<line x1="234.5" y1="313.7" x2="238.5" y2="313.7" class="eb"/>
<line x1="234.5" y1="325.5" x2="238.5" y2="325.5" class="eb"/>
<circle cx="267.7" cy="310.9" r="1.5" stroke="#2a5ca8" class="pt"/>
<circle cx="261.5" cy="313.1" r="1.5" stroke="#2a5ca8" class="pt"/>
<circle cx="274.1" cy="312.4" r="1.5" stroke="#2a5ca8" class="pt"/>
<circle cx="267.7" cy="319.1" r="1.5" stroke="#2a5ca8" class="pt"/>
<circle cx="264.6" cy="321.8" r="1.5" stroke="#2a5ca8" class="pt"/>
<circle cx="271.3" cy="322.2" r="1.5" stroke="#2a5ca8" class="pt"/>
<circle cx="258.6" cy="325.1" r="1.5" stroke="#2a5ca8" class="pt"/>
<circle cx="261.9" cy="326.4" r="1.5" stroke="#2a5ca8" class="pt"/>
<circle cx="267.7" cy="325.5" r="1.5" stroke="#2a5ca8" class="pt"/>
<circle cx="277.4" cy="324" r="1.5" stroke="#2a5ca8" class="pt"/>
<circle cx="274.1" cy="328.8" r="1.5" stroke="#2a5ca8" class="pt"/>
<circle cx="267.7" cy="358.6" r="1.5" stroke="#2a5ca8" class="pt"/>
<line x1="254.7" y1="324.5" x2="280.3" y2="324.5" class="mn"/>
<line x1="267.5" y1="310.9" x2="267.5" y2="336.4" class="eb"/>
<line x1="265.5" y1="310.9" x2="269.5" y2="310.9" class="eb"/>
<line x1="265.5" y1="336.4" x2="269.5" y2="336.4" class="eb"/>
<circle cx="299.1" cy="309.5" r="1.5" stroke="#fbb91a" class="pt"/>
<circle cx="294.4" cy="317.1" r="1.5" stroke="#fbb91a" class="pt"/>
<circle cx="303.3" cy="318.5" r="1.5" stroke="#fbb91a" class="pt"/>
<circle cx="291.9" cy="320.4" r="1.5" stroke="#fbb91a" class="pt"/>
<circle cx="309.6" cy="321.3" r="1.5" stroke="#fbb91a" class="pt"/>
<circle cx="288.3" cy="323.8" r="1.5" stroke="#fbb91a" class="pt"/>
<circle cx="296.7" cy="325.7" r="1.5" stroke="#fbb91a" class="pt"/>
<circle cx="305.2" cy="324.8" r="1.5" stroke="#fbb91a" class="pt"/>
<circle cx="301" cy="329.5" r="1.5" stroke="#fbb91a" class="pt"/>
<circle cx="299.1" cy="321.3" r="1.5" stroke="#fbb91a" class="pt"/>
<line x1="286.7" y1="321.5" x2="312.3" y2="321.5" class="mn"/>
<line x1="299.5" y1="316.6" x2="299.5" y2="326.1" class="eb"/>
<line x1="297.5" y1="316.6" x2="301.5" y2="316.6" class="eb"/>
<line x1="297.5" y1="326.1" x2="301.5" y2="326.1" class="eb"/>
<circle cx="330" cy="308.6" r="1.5" stroke="#22b35e" class="pt"/>
<circle cx="330" cy="313" r="1.5" stroke="#22b35e" class="pt"/>
<circle cx="321.6" cy="315.8" r="1.5" stroke="#22b35e" class="pt"/>
<circle cx="338.6" cy="319.4" r="1.5" stroke="#22b35e" class="pt"/>
<circle cx="330" cy="319.4" r="1.5" stroke="#22b35e" class="pt"/>
<circle cx="330" cy="324.2" r="1.5" stroke="#22b35e" class="pt"/>
<circle cx="330" cy="329" r="1.5" stroke="#22b35e" class="pt"/>
<circle cx="321.6" cy="354.9" r="1.5" stroke="#22b35e" class="pt"/>
<circle cx="338.6" cy="354.9" r="1.5" stroke="#22b35e" class="pt"/>
<circle cx="325.8" cy="360.6" r="1.5" stroke="#22b35e" class="pt"/>
<circle cx="334" cy="358.1" r="1.5" stroke="#22b35e" class="pt"/>
<line x1="317.7" y1="334.5" x2="343.3" y2="334.5" class="mn"/>
<line x1="330.5" y1="314.3" x2="330.5" y2="354.7" class="eb"/>
<line x1="328.5" y1="314.3" x2="332.5" y2="314.3" class="eb"/>
<line x1="328.5" y1="354.7" x2="332.5" y2="354.7" class="eb"/>
<line x1="36.5" y1="429.0" x2="36.5" y2="531.0" class="ax"/>
<line x1="34.1" y1="429.5" x2="36.5" y2="429.5" class="ax"/>
<text x="32.9" y="431.95" class="tk" text-anchor="end">200</text>
<line x1="34.5" y1="439.6" x2="36.5" y2="439.6" class="ax"/>
<line x1="34.1" y1="449.7" x2="36.5" y2="449.7" class="ax"/>
<text x="32.9" y="452.15" class="tk" text-anchor="end">160</text>
<line x1="34.5" y1="459.8" x2="36.5" y2="459.8" class="ax"/>
<line x1="34.1" y1="469.9" x2="36.5" y2="469.9" class="ax"/>
<text x="32.9" y="472.35" class="tk" text-anchor="end">120</text>
<line x1="34.5" y1="480.0" x2="36.5" y2="480.0" class="ax"/>
<line x1="34.1" y1="490.1" x2="36.5" y2="490.1" class="ax"/>
<text x="32.9" y="492.55" class="tk" text-anchor="end">80</text>
<line x1="34.5" y1="500.20000000000005" x2="36.5" y2="500.20000000000005" class="ax"/>
<line x1="34.1" y1="510.3" x2="36.5" y2="510.3" class="ax"/>
<text x="32.9" y="512.75" class="tk" text-anchor="end">40</text>
<line x1="34.5" y1="520.4" x2="36.5" y2="520.4" class="ax"/>
<line x1="34.1" y1="530.5" x2="36.5" y2="530.5" class="ax"/>
<text x="32.9" y="532.95" class="tk" text-anchor="end">0</text>
<line x1="36.0" y1="530.5" x2="161.0" y2="530.5" class="ax"/>
<line x1="51.9" y1="530.5" x2="51.9" y2="532.1" class="ax"/>
<line x1="83.1" y1="530.5" x2="83.1" y2="532.1" class="ax"/>
<line x1="114.3" y1="530.5" x2="114.3" y2="532.1" class="ax"/>
<line x1="145.5" y1="530.5" x2="145.5" y2="532.1" class="ax"/>
<text x="51.9" y="538.9" class="xl" text-anchor="middle">Control</text>
<text x="83.1" y="538.9" class="xl" text-anchor="middle">HL</text>
<text x="114.3" y="538.9" class="xl" text-anchor="middle">Tobacco</text>
<text x="114.3" y="546.6999999999999" class="xl" text-anchor="middle">smoke</text>
<text x="145.5" y="538.9" class="xl" text-anchor="middle">Tobacco</text>
<text x="133.0" y="546.6999999999999" class="xl">smoke + HL</text>
<text transform="translate(11.5,479.6) rotate(-90)" class="yl" text-anchor="middle">[Fe] (µg/g, wet weight)</text>
<text x="40.4" y="432.6" class="pl">G</text>
<circle cx="43.5" cy="459.5" r="1.5" stroke="#ee1c25" class="pt"/>
<circle cx="60.2" cy="462" r="1.5" stroke="#ee1c25" class="pt"/>
<circle cx="51.8" cy="463.8" r="1.5" stroke="#ee1c25" class="pt"/>
<circle cx="56.1" cy="469.7" r="1.5" stroke="#ee1c25" class="pt"/>
<circle cx="47.7" cy="475.6" r="1.5" stroke="#ee1c25" class="pt"/>
<circle cx="47.7" cy="484.4" r="1.5" stroke="#ee1c25" class="pt"/>
<circle cx="56.1" cy="488.9" r="1.5" stroke="#ee1c25" class="pt"/>
<line x1="38.7" y1="472.5" x2="64.3" y2="472.5" class="mn"/>
<line x1="51.5" y1="460.7" x2="51.5" y2="483.5" class="eb"/>
<line x1="49.5" y1="460.7" x2="53.5" y2="460.7" class="eb"/>
<line x1="49.5" y1="483.5" x2="53.5" y2="483.5" class="eb"/>
<circle cx="85.3" cy="449.6" r="1.5" stroke="#2a5ca8" class="pt"/>
<circle cx="80.8" cy="451.8" r="1.5" stroke="#2a5ca8" class="pt"/>
<circle cx="72.8" cy="456.2" r="1.5" stroke="#2a5ca8" class="pt"/>
<circle cx="76.9" cy="457.5" r="1.5" stroke="#2a5ca8" class="pt"/>
<circle cx="89.4" cy="457.1" r="1.5" stroke="#2a5ca8" class="pt"/>
<circle cx="93.4" cy="455.9" r="1.5" stroke="#2a5ca8" class="pt"/>
<circle cx="79" cy="463" r="1.5" stroke="#2a5ca8" class="pt"/>
<circle cx="87.6" cy="462.5" r="1.5" stroke="#2a5ca8" class="pt"/>
<circle cx="83" cy="467.3" r="1.5" stroke="#2a5ca8" class="pt"/>
<circle cx="85.3" cy="470.2" r="1.5" stroke="#2a5ca8" class="pt"/>
<circle cx="80.8" cy="479.2" r="1.5" stroke="#2a5ca8" class="pt"/>
<circle cx="83" cy="495.3" r="1.5" stroke="#2a5ca8" class="pt"/>
<line x1="70.7" y1="463.5" x2="96.3" y2="463.5" class="mn"/>
<line x1="83.5" y1="450.9" x2="83.5" y2="476.9" class="eb"/>
<line x1="81.5" y1="450.9" x2="85.5" y2="450.9" class="eb"/>
<line x1="81.5" y1="476.9" x2="85.5" y2="476.9" class="eb"/>
<circle cx="116" cy="454.1" r="1.5" stroke="#fbb91a" class="pt"/>
<circle cx="112.4" cy="458.7" r="1.5" stroke="#fbb91a" class="pt"/>
<circle cx="106.9" cy="460.5" r="1.5" stroke="#fbb91a" class="pt"/>
<circle cx="118.8" cy="462.3" r="1.5" stroke="#fbb91a" class="pt"/>
<circle cx="122.2" cy="460.9" r="1.5" stroke="#fbb91a" class="pt"/>
<circle cx="103.3" cy="468.3" r="1.5" stroke="#fbb91a" class="pt"/>
<circle cx="109.5" cy="468.3" r="1.5" stroke="#fbb91a" class="pt"/>
<circle cx="116" cy="467.2" r="1.5" stroke="#fbb91a" class="pt"/>
<circle cx="125.5" cy="466.5" r="1.5" stroke="#fbb91a" class="pt"/>
<circle cx="114.2" cy="473.6" r="1.5" stroke="#fbb91a" class="pt"/>
<line x1="101.7" y1="464.5" x2="127.3" y2="464.5" class="mn"/>
<line x1="114.5" y1="458.7" x2="114.5" y2="469.2" class="eb"/>
<line x1="112.5" y1="458.7" x2="116.5" y2="458.7" class="eb"/>
<line x1="112.5" y1="469.2" x2="116.5" y2="469.2" class="eb"/>
<circle cx="145.5" cy="437.4" r="1.5" stroke="#22b35e" class="pt"/>
<circle cx="147.7" cy="442.3" r="1.5" stroke="#22b35e" class="pt"/>
<circle cx="143.2" cy="444.1" r="1.5" stroke="#22b35e" class="pt"/>
<circle cx="135" cy="453.8" r="1.5" stroke="#22b35e" class="pt"/>
<circle cx="147.7" cy="453.2" r="1.5" stroke="#22b35e" class="pt"/>
<circle cx="151.9" cy="452.7" r="1.5" stroke="#22b35e" class="pt"/>
<circle cx="156.1" cy="452.7" r="1.5" stroke="#22b35e" class="pt"/>
<circle cx="143.3" cy="457.4" r="1.5" stroke="#22b35e" class="pt"/>
<circle cx="139.1" cy="458.7" r="1.5" stroke="#22b35e" class="pt"/>
<circle cx="147.7" cy="459.6" r="1.5" stroke="#22b35e" class="pt"/>
<circle cx="143.3" cy="463.2" r="1.5" stroke="#22b35e" class="pt"/>
<line x1="132.7" y1="450.5" x2="158.3" y2="450.5" class="mn"/>
<line x1="145.5" y1="439.2" x2="145.5" y2="461.1" class="eb"/>
<line x1="143.5" y1="439.2" x2="147.5" y2="439.2" class="eb"/>
<line x1="143.5" y1="461.1" x2="147.5" y2="461.1" class="eb"/>
<text x="119.66" y="437.30" class="st" style="font-size:9.0px">*</text>
<text x="123.94" y="437.30" class="st" style="font-size:9.0px">*</text>
<text x="128.22" y="437.30" class="st" style="font-size:9.0px">*</text>
<text x="132.30" y="434.20" class="cm">,</text>
<text x="135.55" y="437.30" class="st" style="font-size:9.0px">*</text>
<text x="139.83" y="437.30" class="st" style="font-size:9.0px">*</text>
<text x="144.11" y="437.30" class="st" style="font-size:9.0px">*</text>
<text x="148.39" y="437.30" class="st" style="font-size:9.0px">*</text>
<text x="152.48" y="434.20" class="cm">,</text>
<text x="155.73" y="437.30" class="st" style="font-size:9.0px">*</text>
<text x="160.00" y="437.30" class="st" style="font-size:9.0px">*</text>
<text x="164.28" y="437.30" class="st" style="font-size:9.0px">*</text>
<text x="168.56" y="437.30" class="st" style="font-size:9.0px">*</text>
<text x="172.84" y="437.30" class="st" style="font-size:9.0px">*</text>
<line x1="221.5" y1="429.0" x2="221.5" y2="531.0" class="ax"/>
<line x1="219.1" y1="429.5" x2="221.5" y2="429.5" class="ax"/>
<text x="217.9" y="431.95" class="tk" text-anchor="end">3000</text>
<line x1="219.5" y1="446.3333333333333" x2="221.5" y2="446.3333333333333" class="ax"/>
<line x1="219.1" y1="463.1666666666667" x2="221.5" y2="463.1666666666667" class="ax"/>
<text x="217.9" y="465.62" class="tk" text-anchor="end">2000</text>
<line x1="219.5" y1="480.0" x2="221.5" y2="480.0" class="ax"/>
<line x1="219.1" y1="496.8333333333333" x2="221.5" y2="496.8333333333333" class="ax"/>
<text x="217.9" y="499.28" class="tk" text-anchor="end">1000</text>
<line x1="219.5" y1="513.6666666666666" x2="221.5" y2="513.6666666666666" class="ax"/>
<line x1="219.1" y1="530.5" x2="221.5" y2="530.5" class="ax"/>
<text x="217.9" y="532.95" class="tk" text-anchor="end">0</text>
<line x1="221.0" y1="530.5" x2="345.8" y2="530.5" class="ax"/>
<line x1="236.6" y1="530.5" x2="236.6" y2="532.1" class="ax"/>
<line x1="267.8" y1="530.5" x2="267.8" y2="532.1" class="ax"/>
<line x1="299.0" y1="530.5" x2="299.0" y2="532.1" class="ax"/>
<line x1="330.2" y1="530.5" x2="330.2" y2="532.1" class="ax"/>
<text x="236.6" y="538.9" class="xl" text-anchor="middle">Control</text>
<text x="267.8" y="538.9" class="xl" text-anchor="middle">HL</text>
<text x="299.0" y="538.9" class="xl" text-anchor="middle">Tobacco</text>
<text x="299.0" y="546.6999999999999" class="xl" text-anchor="middle">smoke</text>
<text x="330.2" y="538.9" class="xl" text-anchor="middle">Tobacco</text>
<text x="317.7" y="546.6999999999999" class="xl">smoke + HL</text>
<text transform="translate(196.5,479.3) rotate(-90)" class="yl" text-anchor="middle">[Fe] (µg/g, dry weight)</text>
<text x="224.6" y="432.9" class="pl">H</text>
<circle cx="236.8" cy="455.8" r="1.5" stroke="#ee1c25" class="pt"/>
<circle cx="236.8" cy="479.1" r="1.5" stroke="#ee1c25" class="pt"/>
<circle cx="234.6" cy="487.9" r="1.5" stroke="#ee1c25" class="pt"/>
<circle cx="230.6" cy="490.4" r="1.5" stroke="#ee1c25" class="pt"/>
<circle cx="226" cy="493.7" r="1.5" stroke="#ee1c25" class="pt"/>
<circle cx="238.8" cy="493.2" r="1.5" stroke="#ee1c25" class="pt"/>
<circle cx="246.9" cy="494.6" r="1.5" stroke="#ee1c25" class="pt"/>
<circle cx="242.8" cy="496.4" r="1.5" stroke="#ee1c25" class="pt"/>
<circle cx="238.8" cy="497.7" r="1.5" stroke="#ee1c25" class="pt"/>
<circle cx="242.8" cy="498.8" r="1.5" stroke="#ee1c25" class="pt"/>
<circle cx="230.6" cy="498.8" r="1.5" stroke="#ee1c25" class="pt"/>
<circle cx="234.6" cy="505.2" r="1.5" stroke="#ee1c25" class="pt"/>
<line x1="223.7" y1="491.5" x2="249.3" y2="491.5" class="mn"/>
<line x1="236.5" y1="478.2" x2="236.5" y2="504.1" class="eb"/>
<line x1="234.5" y1="478.2" x2="238.5" y2="478.2" class="eb"/>
<line x1="234.5" y1="504.1" x2="238.5" y2="504.1" class="eb"/>
<circle cx="271.4" cy="484.8" r="1.5" stroke="#2a5ca8" class="pt"/>
<circle cx="278.4" cy="487.5" r="1.5" stroke="#2a5ca8" class="pt"/>
<circle cx="256.9" cy="490" r="1.5" stroke="#2a5ca8" class="pt"/>
<circle cx="267.6" cy="487" r="1.5" stroke="#2a5ca8" class="pt"/>
<circle cx="260.8" cy="494.9" r="1.5" stroke="#2a5ca8" class="pt"/>
<circle cx="264.2" cy="494.9" r="1.5" stroke="#2a5ca8" class="pt"/>
<circle cx="275" cy="493.9" r="1.5" stroke="#2a5ca8" class="pt"/>
<circle cx="262.5" cy="499" r="1.5" stroke="#2a5ca8" class="pt"/>
<circle cx="269.6" cy="499.3" r="1.5" stroke="#2a5ca8" class="pt"/>
<circle cx="273.2" cy="502.3" r="1.5" stroke="#2a5ca8" class="pt"/>
<circle cx="267.8" cy="519.1" r="1.5" stroke="#2a5ca8" class="pt"/>
<line x1="254.7" y1="495.5" x2="280.3" y2="495.5" class="mn"/>
<line x1="267.5" y1="486.6" x2="267.5" y2="505.2" class="eb"/>
<line x1="265.5" y1="486.6" x2="269.5" y2="486.6" class="eb"/>
<line x1="265.5" y1="505.2" x2="269.5" y2="505.2" class="eb"/>
<circle cx="296.7" cy="477.6" r="1.5" stroke="#fbb91a" class="pt"/>
<circle cx="301.6" cy="479.1" r="1.5" stroke="#fbb91a" class="pt"/>
<circle cx="293.8" cy="483.7" r="1.5" stroke="#fbb91a" class="pt"/>
<circle cx="309" cy="486.8" r="1.5" stroke="#fbb91a" class="pt"/>
<circle cx="289" cy="489.4" r="1.5" stroke="#fbb91a" class="pt"/>
<circle cx="299.1" cy="489.4" r="1.5" stroke="#fbb91a" class="pt"/>
<circle cx="304.3" cy="490.6" r="1.5" stroke="#fbb91a" class="pt"/>
<circle cx="289" cy="499" r="1.5" stroke="#fbb91a" class="pt"/>
<circle cx="299.1" cy="499" r="1.5" stroke="#fbb91a" class="pt"/>
<circle cx="304.3" cy="499.5" r="1.5" stroke="#fbb91a" class="pt"/>
<circle cx="309" cy="503.3" r="1.5" stroke="#fbb91a" class="pt"/>
<circle cx="293.8" cy="506.2" r="1.5" stroke="#fbb91a" class="pt"/>
<line x1="286.7" y1="491.5" x2="312.3" y2="491.5" class="mn"/>
<line x1="299.5" y1="482.4" x2="299.5" y2="501.4" class="eb"/>
<line x1="297.5" y1="482.4" x2="301.5" y2="482.4" class="eb"/>
<line x1="297.5" y1="501.4" x2="301.5" y2="501.4" class="eb"/>
<circle cx="330" cy="437.6" r="1.5" stroke="#22b35e" class="pt"/>
<circle cx="330" cy="476.7" r="1.5" stroke="#22b35e" class="pt"/>
<circle cx="336.3" cy="481.4" r="1.5" stroke="#22b35e" class="pt"/>
<circle cx="327.7" cy="483.7" r="1.5" stroke="#22b35e" class="pt"/>
<circle cx="323.5" cy="487.1" r="1.5" stroke="#22b35e" class="pt"/>
<circle cx="332.5" cy="493.2" r="1.5" stroke="#22b35e" class="pt"/>
<circle cx="319.7" cy="499" r="1.5" stroke="#22b35e" class="pt"/>
<circle cx="323.5" cy="502.4" r="1.5" stroke="#22b35e" class="pt"/>
<circle cx="327.7" cy="502.4" r="1.5" stroke="#22b35e" class="pt"/>
<circle cx="332.5" cy="503.3" r="1.5" stroke="#22b35e" class="pt"/>
<circle cx="336.7" cy="502.4" r="1.5" stroke="#22b35e" class="pt"/>
<circle cx="340.7" cy="509" r="1.5" stroke="#22b35e" class="pt"/>
<line x1="317.7" y1="490.5" x2="343.3" y2="490.5" class="mn"/>
<line x1="330.5" y1="470.6" x2="330.5" y2="509.0" class="eb"/>
<line x1="328.5" y1="470.6" x2="332.5" y2="470.6" class="eb"/>
<line x1="328.5" y1="509.0" x2="332.5" y2="509.0" class="eb"/>
</svg>
</body></html>
